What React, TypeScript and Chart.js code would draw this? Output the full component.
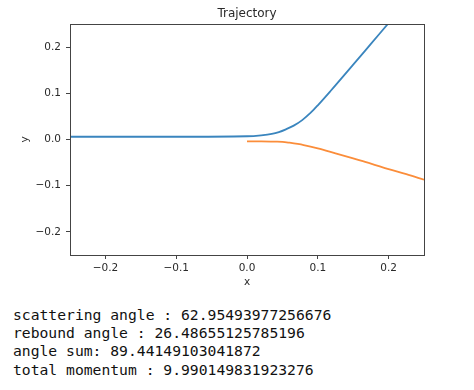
import React, { useEffect, useRef } from "react";
import { Chart, registerables } from "chart.js";

Chart.register(...registerables);

const chartTitle = "Trajectory";
const xLabel = "x";
const yLabel = "y";
const axisMin = -0.25;
const axisMax = 0.25;
const xTicks = [-0.2, -0.1, 0, 0.1, 0.2];
const yTicks = [-0.2, -0.1, 0, 0.1, 0.2];

const blueX = [-0.25, -0.1, 0, 0.02, 0.035, 0.045, 0.055, 0.066, 0.078, 0.09, 0.1, 0.118, 0.15, 0.175, 0.2];
const blueY = [0.006, 0.006, 0.007, 0.009, 0.012, 0.016, 0.022, 0.03, 0.042, 0.058, 0.074, 0.105, 0.162, 0.207, 0.252];

const orangeX = [0, 0.02, 0.04, 0.05, 0.06, 0.08, 0.1, 0.125, 0.15, 0.175, 0.2, 0.225, 0.25];
const orangeY = [-0.004, -0.004, -0.0045, -0.005, -0.007, -0.012, -0.019, -0.03, -0.041, -0.052, -0.064, -0.075, -0.087];

const infoLines = [
  "scattering angle : 62.95493977256676",
  "rebound angle : 26.48655125785196",
  "angle sum: 89.44149103041872",
  "total momentum : 9.990149831923276",
];

const fmt = (v: number) => {
  const s = (Math.abs(v) < 1e-9 ? 0 : v).toFixed(1);
  return s.replace("-", "\u2212");
};

const framePlugin = {
  id: "frame",
  afterDraw(chart: any) {
    const { ctx, chartArea: a } = chart;
    ctx.save();
    ctx.strokeStyle = "#444";
    ctx.lineWidth = 1;
    ctx.strokeRect(Math.round(a.left) + 0.5, Math.round(a.top) + 0.5, Math.round(a.right - a.left), Math.round(a.bottom - a.top));
    ctx.fillStyle = "#2a2a2a";
    ctx.textAlign = "center";
    ctx.textBaseline = "middle";
    ctx.font = "12px 'DejaVu Sans'";
    ctx.fillText(chartTitle, (a.left + a.right) / 2, a.top - 10);
    ctx.font = "10.5px 'DejaVu Sans'";
    ctx.fillText(xLabel, (a.left + a.right) / 2, a.bottom + 27);
    ctx.translate(25, (a.top + a.bottom) / 2);
    ctx.rotate(-Math.PI / 2);
    ctx.fillText(yLabel, 0, 0);
    ctx.restore();
  },
};

const tickFont = { family: "'DejaVu Sans'", size: 10.5 };

export default function App() {
  const ref = useRef<HTMLCanvasElement | null>(null);
  useEffect(() => {
    if (!ref.current) return;
    const chart = new Chart(ref.current, {
      type: "scatter",
      data: {
        datasets: [
          {
            data: blueX.map((x, i) => ({ x, y: blueY[i] })),
            borderColor: "#3a85be",
            backgroundColor: "#3a85be",
            borderWidth: 1.8,
            showLine: true,
            pointRadius: 0,
            cubicInterpolationMode: "monotone",
          },
          {
            data: orangeX.map((x, i) => ({ x, y: orangeY[i] })),
            borderColor: "#fb8d3a",
            backgroundColor: "#fb8d3a",
            borderWidth: 1.8,
            showLine: true,
            pointRadius: 0,
            cubicInterpolationMode: "monotone",
          },
        ],
      },
      options: {
        animation: false,
        responsive: false,
        devicePixelRatio: 1,
        layout: { padding: { top: 24, right: 50, left: 0, bottom: 0 } },
        plugins: { legend: { display: false }, tooltip: { enabled: false }, title: { display: false } },
        scales: {
          x: {
            type: "linear",
            min: axisMin,
            max: axisMax,
            afterBuildTicks: (s: any) => {
              s.ticks = xTicks.map((v) => ({ value: v }));
            },
            afterFit: (s: any) => {
              s.height = 35;
            },
            grid: { display: true, drawOnChartArea: false, drawTicks: true, tickLength: 4, tickColor: "#444", color: "#444" },
            border: { display: false },
            ticks: { color: "#2a2a2a", font: tickFont, padding: 3, maxRotation: 0, autoSkip: false, callback: (v: any) => fmt(Number(v)) },
          },
          y: {
            type: "linear",
            min: axisMin,
            max: axisMax,
            afterBuildTicks: (s: any) => {
              s.ticks = yTicks.map((v) => ({ value: v }));
            },
            afterFit: (s: any) => {
              s.width = 70;
            },
            grid: { display: true, drawOnChartArea: false, drawTicks: true, tickLength: 4, tickColor: "#444", color: "#444" },
            border: { display: false },
            ticks: { color: "#2a2a2a", font: tickFont, padding: 5, autoSkip: false, callback: (v: any) => fmt(Number(v)) },
          },
        },
      },
      plugins: [framePlugin],
    } as any);
    return () => chart.destroy();
  }, []);

  return (
    <div style={{ position: "absolute", left: 0, top: 0, width: 474, height: 390, background: "#fff" }}>
      <canvas ref={ref} width={474} height={290} style={{ position: "absolute", left: 0, top: 0, width: 474, height: 290 }} />
      <div
        style={{
          position: "absolute",
          left: 13,
          top: 306,
          fontFamily: "'DejaVu Sans Mono', monospace",
          fontSize: 14.7,
          lineHeight: "18.2px",
          color: "#111",
          whiteSpace: "pre",
        }}
      >
        {infoLines.map((l, i) => (
          <div key={i}>{l}</div>
        ))}
      </div>
    </div>
  );
}
